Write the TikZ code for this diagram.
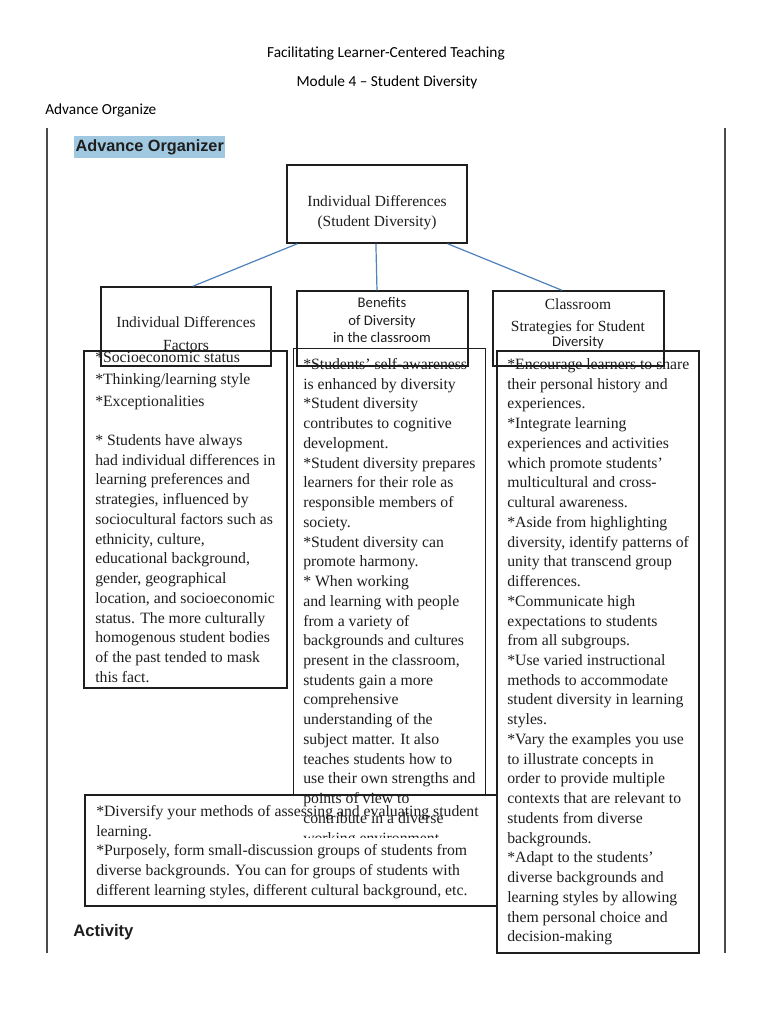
\documentclass[tikz,border=0pt]{standalone}
\usepackage{fontspec}
\setmainfont{Liberation Serif}
\newfontfamily\calibri{Carlito}
\newfontfamily\arial{Liberation Sans}
\usetikzlibrary{fit,calc}
\definecolor{ink}{RGB}{30,30,30}
\definecolor{conn}{RGB}{79,129,189}
\definecolor{hl}{RGB}{160,200,225}
\tikzset{
  box/.style={draw=ink, line width=1.1pt, inner sep=0pt},
  frameline/.style={draw=ink!80, line width=1.1pt},
  link/.style={draw=conn, line width=0.9pt},
  body/.style={font=\fontsize{11.8}{14.8}\selectfont, text=ink, inner sep=0pt, anchor=base west},
  bodytop/.style={font=\fontsize{11.8}{16.5}\selectfont, text=ink, inner sep=0pt, anchor=base west},
  hdr/.style={font=\fontsize{11.6}{14}\selectfont, text=ink, inner sep=0pt, anchor=base},
  hdrsans/.style={font=\calibri\fontsize{11}{13}\selectfont, text=ink, inner sep=0pt, anchor=base},
  calib/.style={font=\calibri\fontsize{11.5}{14}\selectfont, text=black, inner sep=0pt}
}
\begin{document}
\begin{tikzpicture}[x=0.75pt,y=-0.75pt]
\useasboundingbox (0,0) rectangle (768,1024);
\fill[white] (0,0) rectangle (768,1024);

% page headings
\node[calib] (title) at (386,53) {Facilitating Learner-Centered Teaching};
\node[calib] (module) at (387,82) {Module 4 – Student Diversity};
\node[calib, anchor=west] (adv) at (45,110) {Advance Organize};

% frame of the pasted picture
\draw[frameline] (47,128) -- (47,953);
\draw[frameline] (725,128) -- (725,953);

\node[fill=hl, inner xsep=1pt, inner ysep=2.5pt, anchor=west,
      font=\arial\bfseries\fontsize{12.2}{14}\selectfont, text=ink] (ao) at (74,147) {Advance Organizer};

% boxes
\node[box, fit={(287,165) (467,243)}] (top) {};
\node[box, fit={(101,287) (271,366)}] (lh) {};
\node[box, fit={(297,291) (468,366)}] (mh) {};
\node[box, fit={(493,291) (664,366)}] (rh) {};
\node[box, fit={(84,351) (287,688)}] (lc) {};
\node[inner sep=0pt, fit={(294,349) (485,795)}] (mc) {};
\draw[box] (mc.south west) |- (mc.north east) -- (mc.south east);
\node[box, fit={(497,351) (699,953)}] (rc) {};
\node[box, fit={(85,795) (497,906)}] (bb) {};

% connectors
\draw[link] ($(top.south west)!0.061!(top.south east)$) -- ($(lh.north west)!0.54!(lh.north east)$);
\draw[link] ($(top.south west)!0.494!(top.south east)$) -- ($(mh.north west)!0.468!(mh.north east)$);
\draw[link] ($(top.south west)!0.889!(top.south east)$) -- ($(rh.north west)!0.404!(rh.north east)$);

% box titles
\node[hdr] (t1) at (377,206) {Individual Differences};
\node[hdr] (t2) at (377,226) {(Student Diversity)};
\node[hdr] (lh1) at (186,327) {Individual Differences};
\node[hdr] (lh2) at (186,350) {Factors};
\node[hdrsans] (mh1) at (382,307) {Benefits};
\node[hdrsans] (mh2) at (382,325) {of Diversity};
\node[hdrsans] (mh3) at (382,342) {in the classroom};
\node[hdr] (rh1) at (578,309) {Classroom};
\node[hdr] (rh2) at (578,331) {Strategies for Student};
\node[hdrsans] (rh3) at (578,346) {Diversity};

% left column
\node[bodytop] (lt) at (95,362.5) {\begin{tabular}[t]{@{}l@{}}*Socioeconomic status\\{*}Thinking/learning style\\{*}Exceptionalities\end{tabular}};
\node[body] (lb) at (95,445.5) {\begin{tabular}[t]{@{}l@{}}
* Students have always\\
had individual differences in\\
learning preferences and\\
strategies, influenced by\\
sociocultural factors such as\\
ethnicity, culture,\\
educational background,\\
gender, geographical\\
location, and socioeconomic\\
status. The more culturally\\
homogenous student bodies\\
of the past tended to mask\\
this fact.\end{tabular}};

% middle column (text runs on under the bottom box, cut at its frame)
\begin{scope}
\clip (290,340) rectangle (490,837);
\node[body] (mt) at (303,369.5) {\begin{tabular}[t]{@{}l@{}}
*Students’ self-awareness\\
is enhanced by diversity\\
{*}Student diversity\\
contributes to cognitive\\
development.\\
{*}Student diversity prepares\\
learners for their role as\\
responsible members of\\
society.\\
{*}Student diversity can\\
promote harmony.\\
{*} When working\\
and learning with people\\
from a variety of\\
backgrounds and cultures\\
present in the classroom,\\
students gain a more\\
comprehensive\\
understanding of the\\
subject matter. It also\\
teaches students how to\\
use their own strengths and\\
points of view to\\
contribute in a diverse\\
working environment\end{tabular}};
\end{scope}

% right column
\node[body] (rt) at (507,369.5) {\begin{tabular}[t]{@{}l@{}}
*Encourage learners to share\\
their personal history and\\
experiences.\\
{*}Integrate learning\\
experiences and activities\\
which promote students’\\
multicultural and cross-\\
cultural awareness.\\
{*}Aside from highlighting\\
diversity, identify patterns of\\
unity that transcend group\\
differences.\\
{*}Communicate high\\
expectations to students\\
from all subgroups.\\
{*}Use varied instructional\\
methods to accommodate\\
student diversity in learning\\
styles.\\
{*}Vary the examples you use\\
to illustrate concepts in\\
order to provide multiple\\
contexts that are relevant to\\
students from diverse\\
backgrounds.\\
{*}Adapt to the students’\\
diverse backgrounds and\\
learning styles by allowing\\
them personal choice and\\
decision-making\end{tabular}};

% bottom box
\node[body] (bt) at (96,816.5) {\begin{tabular}[t]{@{}l@{}}
*Diversify your methods of assessing and evaluating student\\
learning.\\
{*}Purposely, form small-discussion groups of students from\\
diverse backgrounds. You can for groups of students with\\
different learning styles, different cultural background, etc.\end{tabular}};

\node[anchor=west, inner sep=0pt, font=\arial\bfseries\fontsize{12.5}{14}\selectfont, text=ink] (act) at (73,932) {Activity};
\end{tikzpicture}
\end{document}
